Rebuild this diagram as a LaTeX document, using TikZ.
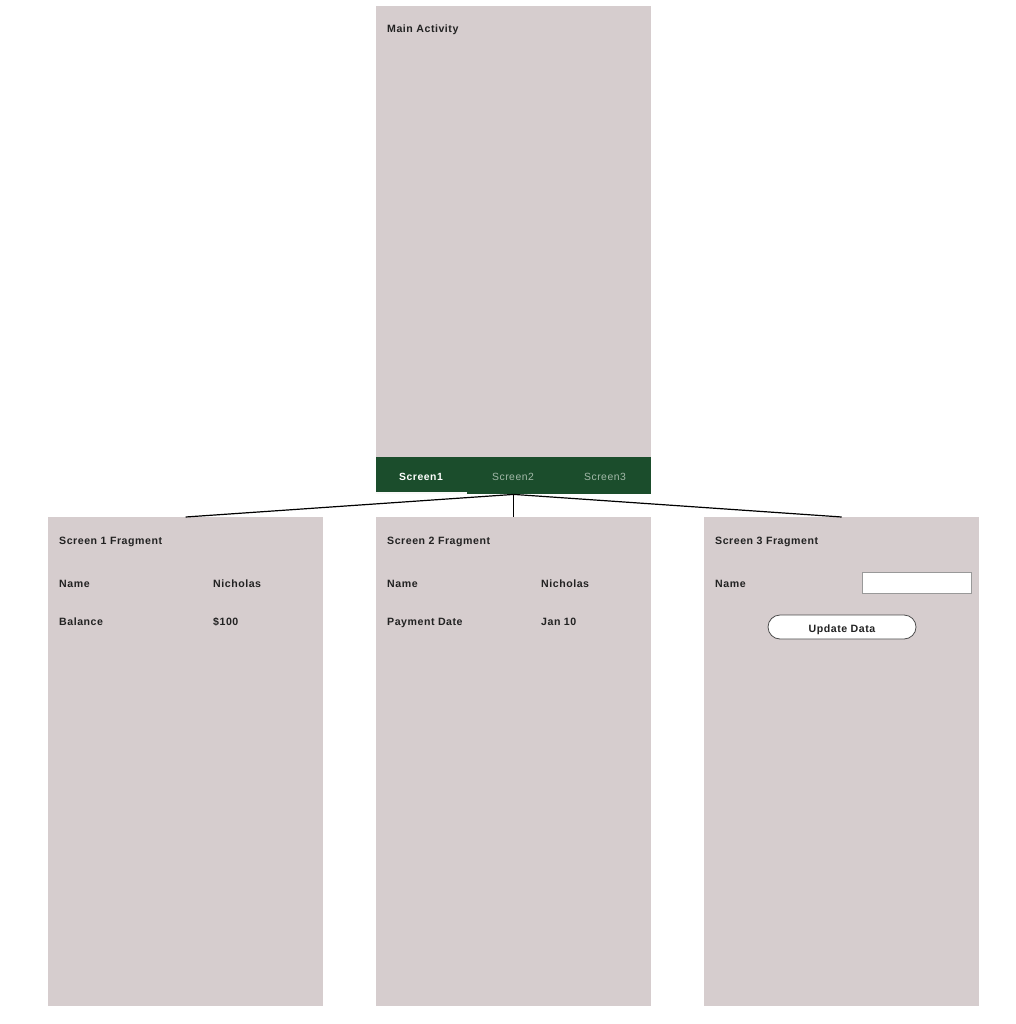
\documentclass[tikz,border=0pt]{standalone}
\usepackage{fontspec}
\setmainfont{Liberation Sans}[LetterSpace=5]
\usetikzlibrary{positioning}

\definecolor{screengray}{HTML}{D6CDCE}
\definecolor{tabgreen}{HTML}{1B4D2C}
\definecolor{tabdim}{HTML}{A3B9A9}
\definecolor{inkgray}{HTML}{222222}

\tikzset{
    screen/.style={
        fill=screengray,draw=none,inner sep=0pt,
        minimum width=275pt,minimum height=489pt,
        anchor=north west
    },
    lbl/.style={
        font=\fontsize{10.6}{12}\selectfont\bfseries,
        text=inkgray,inner sep=0pt,anchor=base west
    },
    tab/.style={
        font=\fontsize{10.4}{12}\selectfont,
        text=tabdim,inner sep=0pt,anchor=base
    },
    link/.style={draw=black,line width=1.2pt}
}

\begin{document}
\begin{tikzpicture}[x=1pt,y=-1pt]
    \useasboundingbox (0,0) rectangle (1015,1024);
    % main activity
    \node[screen,minimum height=488pt] (main) at (376,6) {};
    \node[lbl] (mainlbl) at (387,33) {Main Activity};
    \node[fill=tabgreen,inner sep=0pt,minimum width=275pt,minimum height=37pt,
        anchor=north west] (tabbar) at (376,457) {};
    \fill[white!85!screengray] (376,491.5) rectangle (467,494);
    \node[tab,text=white,font=\fontsize{10.4}{12}\selectfont\bfseries] (tab1) at (421,480) {Screen1};
    \node[tab] (tab2) at (513,480) {Screen2};
    \node[tab] (tab3) at (605,480) {Screen3};
    % fragments
    \foreach \x[count=\n] in {48,376,704} {
        \node[screen] (frag\n) at (\x,517) {};
        \node[lbl] (title\n) at (\x+11,544) {Screen \n\ Fragment};
        \node[lbl] (name\n) at (\x+11,587) {Name};
    }
    \node[lbl] (val1) at (213,587) {Nicholas};
    \node[lbl] (bal) at (59,625) {Balance};
    \node[lbl] (balval) at (213,625) {\$100};
    \node[lbl] (val2) at (541,587) {Nicholas};
    \node[lbl] (pay) at (387,625) {Payment Date};
    \node[lbl] (payval) at (541,625) {Jan 10};
    \node[fill=white,draw=gray!80,line width=0.8pt,inner sep=0pt,
        minimum width=109pt,minimum height=21pt,anchor=north west] (field) at (862,572) {};
    \node[fill=white,draw=gray!60!black,line width=0.8pt,rounded corners=12pt,
        minimum width=148pt,minimum height=24pt,inner sep=0pt,
        text height=10pt,text depth=0pt,
        font=\fontsize{10.6}{12}\selectfont\bfseries,text=inkgray] (update) at (842,627) {Update Data};
    % connectors
    \draw[link] (tabbar.south) -- (frag1.north);
    \draw[link] (tabbar.south) -- (frag2.north);
    \draw[link] (tabbar.south) -- (frag3.north);
\end{tikzpicture}
\end{document}
